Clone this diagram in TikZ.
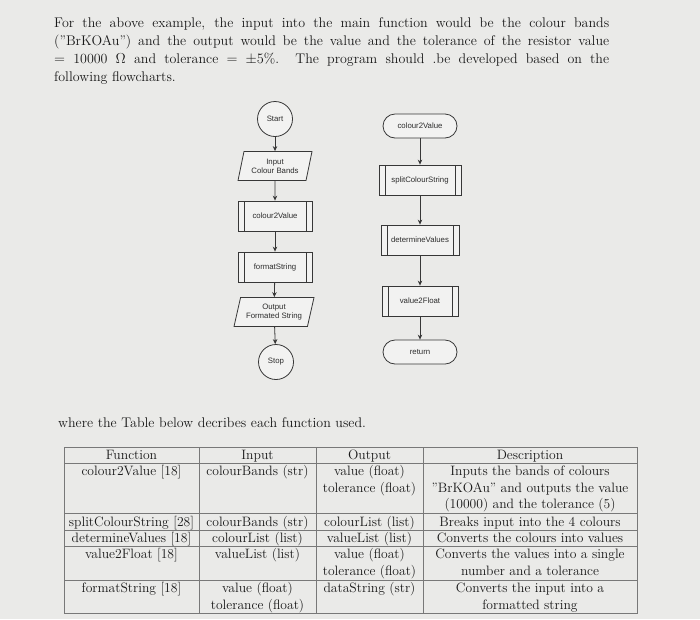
\documentclass[tikz,border=0pt]{standalone}
\usepackage{fontspec}
\newfontfamily\fcfont{Liberation Sans}
\usetikzlibrary{shapes.geometric,arrows.meta}
\definecolor{bg}{RGB}{234,234,232}
\definecolor{shapefill}{RGB}{242,242,241}
\definecolor{ink}{RGB}{25,25,25}
\definecolor{fcline}{RGB}{55,55,55}
\definecolor{fctext}{RGB}{45,45,45}
\definecolor{rulec}{RGB}{120,120,120}
\newcommand\tcell[4]{\node[cellt] (#1) at (#2,#3) {#4};}
\begin{document}
\begin{tikzpicture}[x=1pt,y=-1pt,
  fcbase/.style={draw=fcline, fill=shapefill, line width=0.8pt, text=fctext,
    font=\fcfont\fontsize{7.8}{9}\selectfont, align=center, inner sep=1pt},
  proc/.style={fcbase, rectangle, minimum width=#1, minimum height=30pt,
    path picture={\draw[fcline, line width=0.7pt]
      ([xshift=6pt]path picture bounding box.north west) -- ([xshift=6pt]path picture bounding box.south west)
      ([xshift=-6pt]path picture bounding box.north east) -- ([xshift=-6pt]path picture bounding box.south east);}},
  proc/.default=74pt,
  iobox/.style={fcbase, trapezium, trapezium left angle=70, trapezium right angle=110,
    trapezium stretches body, minimum width=#1, minimum height=29pt},
  iobox/.default=74pt,
  termc/.style={fcbase, circle, minimum size=35pt},
  stadium/.style={fcbase, rectangle, rounded corners=12pt, minimum width=74pt, minimum height=24pt},
  arr/.style={-{Stealth[length=5pt,width=4.5pt]}, draw=fcline, line width=0.8pt},
  para/.style={anchor=base west, inner sep=0pt, text=ink, font=\fontsize{14}{18}\selectfont},
  cellt/.style={anchor=base, inner sep=0pt, text=ink, font=\fontsize{13.6}{16.7}\selectfont},
  tline/.style={draw=rulec, line width=0.8pt}
]
\fill[bg] (0,0) rectangle (700,619);
\useasboundingbox (0,0) rectangle (700,619);

% paragraph
\node[para] (p1) at (54,27) {\makebox[555pt][s]{For the above example, the input into the main function would be the colour bands}};
\node[para] (p2) at (54,45) {\makebox[555pt][s]{(”BrKOAu”) and the output would be the value and the tolerance of the resistor value}};
\node[para] (p3) at (54,63) {\makebox[555pt][s]{$=$ 10000 $\Omega$ and tolerance $=$ $\pm5\%$.\ \ The program should .be developed based on the}};
\node[para] (p4) at (54,81) {following flowcharts.};

% main flowchart
\node[termc] (start) at (275,119) {Start};
\node[iobox=74pt] (inp) at (275,166) {Input\\Colour Bands};
\node[proc] (c2v) at (275,216) {colour2Value};
\node[proc] (fmt) at (275,267) {formatString};
\node[iobox=80pt] (outp) at (274,312) {Output\\Formated String};
\node[termc] (stop) at (276,362) {Stop};
\draw[arr] (start) -- (inp);
\draw[arr] (inp) -- (c2v);
\draw[arr] (c2v) -- (fmt);
\draw[arr] (fmt) -- (outp);
\draw[arr] (outp) -- (stop);

% colour2Value flowchart
\node[stadium] (fc2v) at (420,126) {colour2Value};
\node[proc=82pt] (split) at (420,180) {splitColourString};
\node[proc=78pt] (det) at (420,240) {determineValues};
\node[proc=76pt] (v2f) at (420,301) {value2Float};
\node[stadium] (ret) at (420,352) {return};
\draw[arr] (fc2v) -- (split);
\draw[arr] (split) -- (det);
\draw[arr] (det) -- (v2f);
\draw[arr] (v2f) -- (ret);

\node[para] (p5) at (58,427) {where the Table below decribes each function used.};

% table rules
\draw[tline] (64,447) rectangle (637,613);
\foreach \yy in {463,513,530,546,580} \draw[tline] (64,\yy) -- (637,\yy);
\foreach \xx in {199,316,423} \draw[tline] (\xx,447) -- (\xx,613);

% header
\tcell{h1}{131.5}{459}{Function}
\tcell{h2}{257.5}{459}{Input}
\tcell{h3}{369.5}{459}{Output}
\tcell{h4}{530}{459}{Description}
% row 1
\tcell{a1}{131.5}{475}{colour2Value [18]}
\tcell{a2}{257.5}{475}{colourBands (str)}
\tcell{a3}{369.5}{475}{value (float)}
\tcell{a3b}{369.5}{492}{tolerance (float)}
\tcell{a4}{530}{475}{Inputs the bands of colours}
\tcell{a4b}{530}{492}{”BrKOAu” and outputs the value}
\tcell{a4c}{530}{508}{(10000) and the tolerance (5)}
% row 2
\tcell{b1}{131.5}{526}{splitColourString [28]}
\tcell{b2}{257.5}{526}{colourBands (str)}
\tcell{b3}{369.5}{526}{colourList (list)}
\tcell{b4}{530}{526}{Breaks input into the 4 colours}
% row 3
\tcell{c1}{131.5}{542}{determineValues [18]}
\tcell{c2}{257.5}{542}{colourList (list)}
\tcell{c3}{369.5}{542}{valueList (list)}
\tcell{c4}{530}{542}{Converts the colours into values}
% row 4
\tcell{d1}{131.5}{558}{value2Float [18]}
\tcell{d2}{257.5}{558}{valueList (list)}
\tcell{d3}{369.5}{558}{value (float)}
\tcell{d3b}{369.5}{575}{tolerance (float)}
\tcell{d4}{530}{558}{Converts the values into a single}
\tcell{d4b}{530}{575}{number and a tolerance}
% row 5
\tcell{e1}{131.5}{592}{formatString [18]}
\tcell{e2}{257.5}{592}{value (float)}
\tcell{e2b}{257.5}{609}{tolerance (float)}
\tcell{e3}{369.5}{592}{dataString (str)}
\tcell{e4}{530}{592}{Converts the input into a}
\tcell{e4b}{530}{609}{formatted string}
\end{tikzpicture}
\end{document}
